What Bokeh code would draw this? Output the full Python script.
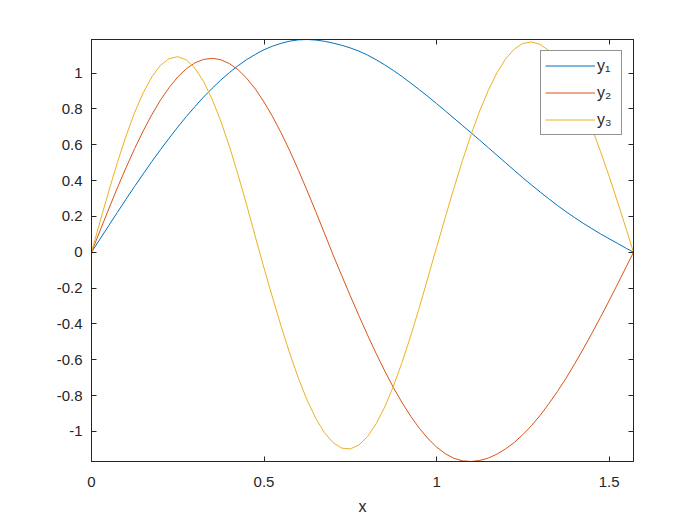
import numpy as np
from bokeh.plotting import figure
from bokeh.models import FixedTicker, LinearAxis, CustomJSTickFormatter, Range1d
from bokeh.embed import file_html
from bokeh.resources import INLINE

# ---- data ----
x_vals = [0.0, 0.025, 0.05, 0.075, 0.1, 0.125, 0.15, 0.175, 0.2, 0.225, 0.25, 0.275,
          0.3, 0.325, 0.35, 0.375, 0.4, 0.425, 0.45, 0.475, 0.5, 0.525, 0.55, 0.575,
          0.6, 0.625, 0.65, 0.675, 0.7, 0.725, 0.75, 0.775, 0.8, 0.825, 0.85, 0.875,
          0.9, 0.925, 0.95, 0.975, 1.0, 1.025, 1.05, 1.075, 1.1, 1.125, 1.15, 1.175,
          1.2, 1.225, 1.25, 1.275, 1.3, 1.325, 1.35, 1.375, 1.4, 1.425, 1.45, 1.475,
          1.5, 1.525, 1.55, 1.5708]

y1 = [0.0, 0.075, 0.149, 0.223, 0.296, 0.368, 0.438, 0.507, 0.573, 0.637, 0.699, 0.758,
      0.814, 0.867, 0.916, 0.962, 1.004, 1.042, 1.076, 1.105, 1.131, 1.151, 1.167, 1.179,
      1.186, 1.188, 1.185, 1.178, 1.168, 1.156, 1.141, 1.123, 1.101, 1.075, 1.046, 1.015,
      0.981, 0.945, 0.908, 0.870, 0.830, 0.790, 0.749, 0.708, 0.667, 0.626, 0.584, 0.542,
      0.500, 0.458, 0.416, 0.376, 0.337, 0.299, 0.262, 0.227, 0.194, 0.162, 0.132, 0.103,
      0.076, 0.049, 0.022, 0.0]

y2 = [0.0, 0.122, 0.242, 0.360, 0.472, 0.579, 0.678, 0.769, 0.850, 0.920, 0.979, 1.025,
      1.058, 1.077, 1.083, 1.075, 1.053, 1.019, 0.971, 0.911, 0.839, 0.757, 0.665, 0.565,
      0.457, 0.344, 0.227, 0.107, -0.014, -0.129, -0.243, -0.354, -0.462, -0.565, -0.663, -0.755,
      -0.839, -0.915, -0.982, -1.040, -1.087, -1.124, -1.150, -1.164, -1.168, -1.162, -1.149, -1.127,
      -1.098, -1.062, -1.018, -0.968, -0.911, -0.847, -0.778, -0.704, -0.624, -0.540, -0.453, -0.363,
      -0.271, -0.176, -0.080, 0.0]

y3 = [0.0, 0.173, 0.341, 0.501, 0.649, 0.780, 0.891, 0.980, 1.044, 1.081, 1.092, 1.074,
      1.027, 0.953, 0.853, 0.731, 0.589, 0.431, 0.262, 0.086, -0.088, -0.255, -0.416, -0.567,
      -0.705, -0.826, -0.927, -1.007, -1.063, -1.093, -1.098, -1.076, -1.029, -0.957, -0.863, -0.748,
      -0.615, -0.467, -0.309, -0.142, 0.027, 0.193, 0.356, 0.512, 0.657, 0.789, 0.904, 1.002,
      1.079, 1.134, 1.166, 1.174, 1.161, 1.127, 1.075, 1.004, 0.916, 0.812, 0.694, 0.564,
      0.425, 0.279, 0.128, 0.0]

series = [y1, y2, y3]
series_labels = ["y\u2081", "y\u2082", "y\u2083"]
series_colors = ["#0072BD", "#D95319", "#EDB120"]

x_ticks = [0, 0.5, 1, 1.5]
y_ticks = [-1, -0.8, -0.6, -0.4, -0.2, 0, 0.2, 0.4, 0.6, 0.8, 1]
x_label = "x"

# ---- figure ----
FONT = "Liberation Sans"
INK = "#262626"
all_y = np.concatenate([np.asarray(s) for s in series])

p = figure(width=692, height=517, output_backend="svg", toolbar_location=None,
           x_range=Range1d(min(x_vals), max(x_vals)),
           y_range=Range1d(float(all_y.min()), float(all_y.max())),
           min_border_left=91, min_border_right=59, min_border_top=39, min_border_bottom=51)
p.background_fill_color = "white"
p.border_fill_color = "white"
p.outline_line_color = INK
p.outline_line_width = 1
p.grid.visible = False

for ys, lab, col in zip(series, series_labels, series_colors):
    p.line(x_vals, ys, line_color=col, line_width=1, legend_label=lab)

fmt_code = """
const v = Math.round(tick * 10) / 10;
return (Math.abs(v) < 1e-9) ? "0" : String(v);
"""
blank = CustomJSTickFormatter(code='return "";')

def style_axis(ax, ticks, labels=True):
    ax.ticker = FixedTicker(ticks=ticks)
    ax.major_tick_in = 5
    ax.major_tick_out = 0
    ax.minor_tick_in = 0
    ax.minor_tick_out = 0
    ax.axis_line_color = INK
    ax.major_tick_line_color = INK
    ax.major_label_text_font = FONT
    ax.major_label_text_font_size = "15px"
    ax.major_label_text_color = INK
    ax.formatter = CustomJSTickFormatter(code=fmt_code) if labels else blank

style_axis(p.xaxis[0], x_ticks)
style_axis(p.yaxis[0], y_ticks)
p.xaxis[0].major_label_standoff = 15
p.yaxis[0].major_label_standoff = 9
p.xaxis[0].axis_label = x_label
p.xaxis[0].axis_label_text_font = FONT
p.xaxis[0].axis_label_text_font_size = "16px"
p.xaxis[0].axis_label_text_font_style = "normal"
p.xaxis[0].axis_label_text_color = INK
p.xaxis[0].axis_label_standoff = 8

top_ax = LinearAxis()
style_axis(top_ax, x_ticks, labels=False)
p.add_layout(top_ax, "above")
right_ax = LinearAxis()
style_axis(right_ax, y_ticks, labels=False)
p.add_layout(right_ax, "right")

lg = p.legend[0]
lg.location = "top_right"
lg.margin = 11
lg.padding = 4
lg.spacing = 6
lg.glyph_width = 50
lg.glyph_height = 21
lg.label_height = 21
lg.label_standoff = 2
lg.label_text_font = FONT
lg.label_text_font_size = "16px"
lg.label_text_color = INK
lg.border_line_color = INK
lg.border_line_width = 1
lg.background_fill_color = "white"
lg.background_fill_alpha = 1.0

open("out.html", "w").write(file_html(p, INLINE))
